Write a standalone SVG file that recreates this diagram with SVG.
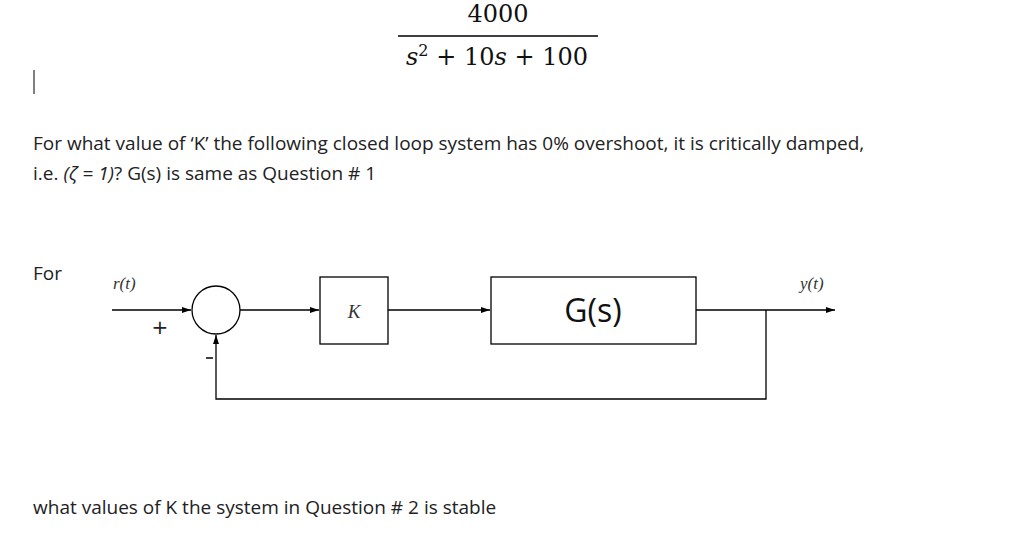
<svg xmlns="http://www.w3.org/2000/svg" width="1011" height="538" viewBox="0 0 1011 538">
<style>
.t{font-family:"Open Sans","Liberation Sans",sans-serif;font-size:19px;fill:#222}
.m{font-family:"Liberation Serif",serif;font-style:italic;fill:#333}
.l{stroke:#000;stroke-width:1.3;fill:none}
</style>
<defs><marker id="a" markerWidth="10" markerHeight="8" refX="9" refY="4" orient="auto" markerUnits="userSpaceOnUse"><path d="M0,1 L9,4 L0,7z" fill="#000"/></marker></defs>
<rect width="1011" height="538" fill="#fff"/>
<text x="498" y="22" text-anchor="middle" font-family="DejaVu Serif,serif" font-size="24" fill="#111">4000</text>
<line x1="398" y1="36" x2="598" y2="36" stroke="#000" stroke-width="1.5"/>
<text x="497" y="65" text-anchor="middle" font-family="DejaVu Serif,serif" font-size="24" fill="#111"><tspan font-style="italic">s</tspan><tspan font-size="16" dy="-9">2</tspan><tspan dy="9"> + 10</tspan><tspan font-style="italic">s</tspan> + 100</text>
<line x1="34" y1="70" x2="34" y2="94" stroke="#000" stroke-width="1"/>
<text class="t" x="33" y="150">For what value of ‘K’ the following closed loop system has 0% overshoot, it is critically damped,</text>
<text class="t" x="33" y="180">i.e. <tspan font-style="italic">(ζ = 1)</tspan>? G(s) is same as Question # 1</text>
<text class="t" x="33" y="280">For</text>
<text class="t" x="33" y="514">what values of K the system in Question # 2 is stable</text>
<g id="sum"><circle cx="216" cy="310" r="24" class="l"/></g>
<g id="k"><rect x="320" y="277" width="68" height="67" class="l"/><text class="m" x="354" y="318" font-size="19" text-anchor="middle">K</text></g>
<g id="g"><rect x="491" y="277" width="205" height="67" class="l"/><text x="593" y="322" text-anchor="middle" font-family="Open Sans,Liberation Sans,sans-serif" font-size="32" fill="#111">G(s)</text></g>
<g id="conn">
<line x1="112" y1="310" x2="191" y2="310" class="l" marker-end="url(#a)"/>
<line x1="240" y1="310" x2="319" y2="310" class="l" marker-end="url(#a)"/>
<line x1="388" y1="310" x2="490" y2="310" class="l" marker-end="url(#a)"/>
<line x1="696" y1="310" x2="835" y2="310" class="l" marker-end="url(#a)"/>
<polyline points="766,310 766,399 216,399 216,335" class="l" marker-end="url(#a)"/>
</g>
<text class="m" x="113" y="289" font-size="17">r(t)</text>
<text class="m" x="800" y="289" font-size="17">y(t)</text>
<text x="160" y="334" text-anchor="middle" font-family="DejaVu Sans,sans-serif" font-size="20" fill="#222">+</text>
<line x1="206" y1="358" x2="213" y2="358" stroke="#000" stroke-width="1.5"/>
</svg>
